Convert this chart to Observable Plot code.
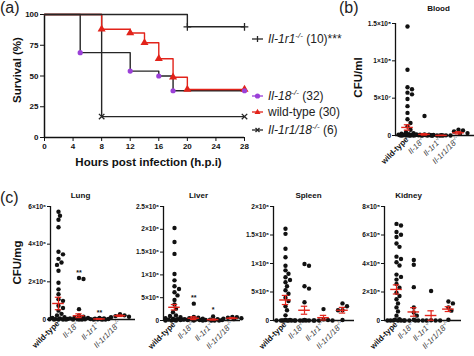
<!DOCTYPE html>
<html><head><meta charset="utf-8">
<script src="https://cdn.jsdelivr.net/npm/d3@7"></script>
<script src="https://cdn.jsdelivr.net/npm/@observablehq/plot@0.6"></script>
<style>
body{margin:0;background:#fff;}
#fig{position:relative;width:474px;height:356px;overflow:hidden;background:#fff;font-family:"Liberation Sans",Arial,sans-serif;}
#fig svg.panel{position:absolute;overflow:visible;max-width:none;}
.plabel{position:absolute;font-size:16px;line-height:16px;color:#222;}
</style></head><body><div id="fig"></div>
<script>
// ---------- DATA ----------
const categories = ["wild-type", "Il-18-/-", "Il-1r1-/-", "Il-1r1/18-/-"];

// (a) survival (Kaplan-Meier)
const hourTicks = [0, 4, 8, 12, 16, 20, 24, 28];
const survivalTicks = [0, 25, 50, 75, 100];
const il1r1Hours = [0, 20, 28];
const il1r1Surv  = [100, 90, 90];
const il18Hours  = [0, 5, 12, 16, 18, 28];
const il18Surv   = [100, 69, 54, 50, 38, 38];
const wtHours    = [0, 8, 12, 14, 16, 18, 20, 28];
const wtSurv     = [100, 88, 85, 77, 64, 49, 39, 39];
const dkoHours   = [0, 8, 28];
const dkoSurv    = [100, 17, 17];
const survivalLabels = ["Il-1r1-/- (10)***", "Il-18-/- (32)", "wild-type (30)", "Il-1r1/18-/- (6)"];

// (b) Blood, CFU/ml, values in millions
const bloodTicks = [0, 50, 100, 150];
const bloodTickLabels = ["0", "5×10⁷", "1×10⁸", "1.5×10⁸"];
const bloodWT  = [146, 88, 64.6, 62, 57.4, 55.1, 48.8, 39.3, 30.3, 21.7, 16.7, 12.2, 7.7, 4.5, 3, 2.3, 1.8, 1.5, 1.2, 1, 0.8, 0.6, 0.5, 0.3, 0.2, 0.1, 0, 0, 0, 0];
const bloodIl18 = [26.2, 1.5, 1.2, 1, 0.8, 0.6, 0.5, 0.4, 0.3, 0.2, 0.1, 0, 0];
const bloodIl1r1 = [0.3, 0.2, 0.1, 0.1, 0, 0, 0];
const bloodDko = [7.7, 6.8, 5.4, 3.2, 2.3];
const bloodMean = [10.8, 1.5, 0.1, 3.6];
const bloodSem  = [3.6, 1.0, 0.05, 1.5];

// (c) Lung, CFU/mg, millions
const lungTicks = [0, 2, 4, 6];
const lungTickLabels = ["0", "2×10⁶", "4×10⁶", "6×10⁶"];
const lungWT = [5.72, 5.51, 5.30, 4.90, 3.60, 3.46, 3.22, 3.03, 2.90, 2.59, 1.95, 1.60, 1.34, 1.08, 0.99, 0.73, 0.61, 0.47, 0.30, 0.21, 0.12, 0.08, 0.05, 0.03, 0.02, 0.01, 0, 0, 0, 0];
const lungIl18 = [2.2, 2.15, 0.55, 0.2, 0.15, 0.1, 0.08, 0.05, 0.03, 0.02, 0.01, 0, 0, 0];
const lungIl1r1 = [0.08, 0.05, 0.04, 0.03, 0.02, 0.01, 0.01, 0, 0, 0];
const lungDko = [0.28, 0.22, 0.18, 0.15, 0.12];
const lungMean = [0.85, 0.2, 0.03, 0.2];
const lungSem  = [0.33, 0.1, 0.01, 0.04];
const lungStarCats = [1, 2];
const lungStarValues = [2.5, 0.37];
const lungStarText = ["**", "**"];

// Liver, millions
const liverTicks = [0, 0.5, 1, 1.5, 2, 2.5];
const liverTickLabels = ["0", "5×10⁵", "1×10⁶", "1.5×10⁶", "2×10⁶", "2.5×10⁶"];
const liverWT = [2.03, 1.72, 1.46, 1.02, 0.88, 0.75, 0.69, 0.62, 0.55, 0.45, 0.35, 0.26, 0.18, 0.11, 0.1, 0.07, 0.05, 0.04, 0.03, 0.02, 0.02, 0.01, 0.01, 0, 0, 0];
const liverIl18 = [0.37, 0.08, 0.06, 0.05, 0.04, 0.03, 0.02, 0.02, 0.01, 0.01, 0, 0];
const liverIl1r1 = [0.09, 0.03, 0.02, 0.01, 0.01, 0, 0, 0];
const liverDko = [0.08, 0.07, 0.06, 0.05, 0.04, 0.03];
const liverMean = [0.29, 0.05, 0.02, 0.05];
const liverSem  = [0.06, 0.03, 0.01, 0.01];
const liverStarCats = [1, 2];
const liverStarValues = [0.5, 0.24];
const liverStarText = ["**", "*"];

// Spleen, millions
const spleenTicks = [0, 0.5, 1, 1.5, 2];
const spleenTickLabels = ["0", "5×10⁵", "1×10⁶", "1.5×10⁶", "2×10⁶"];
const spleenWT = [1.61, 1.52, 1.26, 1.11, 0.96, 0.88, 0.82, 0.76, 0.71, 0.67, 0.60, 0.53, 0.47, 0.40, 0.34, 0.25, 0.18, 0.09, 0.01, 0.01, 0, 0, 0, 0, 0, 0, 0, 0];
const spleenIl18 = [0.99, 0.96, 0.60, 0.56, 0.32, 0.01, 0, 0, 0, 0, 0, 0];
const spleenIl1r1 = [0.2, 0.02, 0.01, 0, 0, 0];
const spleenDko = [0.30, 0.25, 0.18, 0.18, 0.01];
const spleenMean = [0.36, 0.18, 0.05, 0.18];
const spleenSem  = [0.08, 0.07, 0.04, 0.05];

// Kidney, units of 1e5
const kidneyTicks = [0, 2, 4, 6, 8];
const kidneyTickLabels = ["0", "2×10⁵", "4×10⁵", "6×10⁵", "8×10⁵"];
const kidneyWT = [6.78, 6.67, 6.21, 6.02, 5.86, 5.40, 5.17, 4.48, 4.32, 4.09, 3.86, 3.22, 3.06, 2.87, 2.57, 2.30, 1.95, 1.72, 1.49, 1.20, 0.92, 0.64, 0.34, 0.1, 0.05, 0, 0, 0, 0, 0, 0];
const kidneyIl18 = [4.25, 3.91, 2.34, 0.92, 0.57, 0.34, 0.05, 0, 0, 0, 0, 0];
const kidneyIl1r1 = [2.07, 0.02, 0, 0, 0];
const kidneyDko = [1.33, 1.2, 0.92, 0.69, 0.05];
const kidneyMean = [2.18, 0.6, 0.35, 0.8];
const kidneySem  = [0.32, 0.3, 0.33, 0.17];

// ---------- STYLE ----------
const RED = "#e2231a", PURPLE = "#9b40d8", BLACK = "#262626";
const FONT = '"Liberation Sans", Arial, sans-serif';
const SVGNS = "http://www.w3.org/2000/svg";
const fig = document.getElementById("fig");

function place(svg, left, top) {
  svg.classList.add("panel");
  svg.style.left = left + "px";
  svg.style.top = top + "px";
  fig.appendChild(svg);
}
function richParts(s) {
  const m = s.match(/^(.*?)(-\/-)(.*)$/);
  if (!m) return [[s, "plain"]];
  const parts = [[m[1], "i"], [m[2], "sup"]];
  if (m[3]) parts.push([m[3], "plain"]);
  return parts;
}
function fillRich(el, s, fs) {
  el.textContent = "";
  let shifted = 0;
  for (const [t, kind] of richParts(s)) {
    const ts = document.createElementNS(SVGNS, "tspan");
    ts.textContent = t;
    if (kind === "sup") {
      ts.setAttribute("font-size", fs * 0.68);
      ts.setAttribute("dy", -fs * 0.4);
      ts.setAttribute("font-style", "italic");
      ts.setAttribute("font-weight", "normal");
      ts.setAttribute("fill", "#444");
      shifted = fs * 0.4;
    } else {
      ts.setAttribute("font-size", fs);
      if (shifted) { ts.setAttribute("dy", shifted); shifted = 0; }
      if (kind === "i") {
        ts.setAttribute("font-style", "italic");
        ts.setAttribute("font-weight", "normal");
        ts.setAttribute("fill", "#444");
      } else {
        ts.setAttribute("font-weight", "bold");
        ts.setAttribute("fill", "#111");
      }
    }
    el.appendChild(ts);
  }
}
function richHTML(s) {
  return richParts(s).map(([t, k]) =>
    k === "i" ? `<i>${t}</i>` :
    k === "sup" ? `<span style="font-size:8px;position:relative;top:-5px;font-style:italic">${t}</span>` :
    t.replace(/ /g, "&nbsp;")).join("");
}

// ---------- (a) SURVIVAL ----------
const survGroups = [
  {label: survivalLabels[1], t: il18Hours, s: il18Surv, line: BLACK, mark: PURPLE, symbol: "circle", sw: PURPLE, dy: -8},
  {label: survivalLabels[3], t: dkoHours, s: dkoSurv, line: BLACK, mark: BLACK, symbol: "times", sw: BLACK, dy: 0},
  {label: survivalLabels[2], t: wtHours, s: wtSurv, line: RED, mark: RED, symbol: "triangle", sw: RED, dy: 9},
  {label: survivalLabels[0], t: il1r1Hours, s: il1r1Surv, line: BLACK, mark: BLACK, symbol: "plus", sw: BLACK, dy: -1.5}
];
const rows = g => g.t.map((t, i) => ({t, s: g.s[i]}));
const survMarks = [];
for (const g of survGroups) {
  survMarks.push(Plot.line(rows(g), {x: "t", y: "s", curve: "step-after", stroke: g.line, strokeWidth: 1.4}));
}
for (const g of [survGroups[2], survGroups[0], survGroups[1], survGroups[3]]) {
  const pts = rows(g).slice(1);
  const filled = g.symbol === "circle" || g.symbol === "triangle";
  survMarks.push(Plot.dot(pts, {x: "t", y: "s", symbol: g.symbol, r: g.symbol === "triangle" ? 3 : 2.6,
    fill: filled ? g.mark : "none", stroke: filled ? "none" : g.mark, strokeWidth: 1.3}));
}
const survPlot = Plot.plot({
  width: 350, height: 172, marginLeft: 44, marginRight: 106, marginTop: 14, marginBottom: 35,
  style: {fontFamily: FONT, fontSize: "8px", fontWeight: "bold", color: "#111", background: "transparent", overflow: "visible"},
  x: {domain: [0, 28], ticks: hourTicks, tickSize: 4, tickPadding: 2, label: null},
  y: {domain: [0, 100], ticks: survivalTicks, tickSize: 4, tickPadding: 2, label: null},
  marks: [
    Plot.ruleX([0], {stroke: "#111", strokeWidth: 1.5}),
    Plot.ruleY([0], {stroke: "#111", strokeWidth: 1.5}),
    ...survMarks,
    Plot.text(["Hours post infection (h.p.i)"], {frameAnchor: "bottom", textAnchor: "middle", dx: 4, dy: 28, lineAnchor: "bottom", fontSize: 11.5, fontWeight: "bold", fill: "#111"}),
    Plot.text(["Survival (%)"], {frameAnchor: "left", textAnchor: "middle", lineAnchor: "middle", rotate: -90, dx: -27, dy: -6, fontSize: 11.5, fontWeight: "bold", fill: "#111"})
  ]
});
place(survPlot, 0, 0);
const ySurv = survPlot.scale("y");

function swatch(g) {
  let sym = "";
  if (g.symbol === "circle") sym = `<circle cx="7.5" cy="8" r="2.6" fill="${g.sw}"/>`;
  if (g.symbol === "triangle") sym = `<polygon points="7.5,4.8 10.5,10 4.5,10" fill="${g.sw}"/>`;
  if (g.symbol === "plus") sym = `<path d="M7.5,5V11" stroke="${g.sw}" stroke-width="1.3"/>`;
  if (g.symbol === "times") sym = `<path d="M5.5,6L9.5,10M9.5,6L5.5,10" stroke="${g.sw}" stroke-width="1.3"/>`;
  return `<svg width="16" height="16" style="flex:none"><path d="M2,8H13" stroke="${g.sw}" stroke-width="1.3"/>${sym}</svg>`;
}
for (const g of survGroups) {
  const y = 14 + ySurv.apply(g.s[g.s.length - 1]) + g.dy;
  const div = document.createElement("div");
  div.style.cssText = `position:absolute;left:250px;top:${y - 8}px;height:16px;display:flex;align-items:center;font-size:12px;color:#222;white-space:nowrap;`;
  div.innerHTML = swatch(g) + `<span style="margin-left:2px">${richHTML(g.label)}</span>`;
  fig.appendChild(div);
}

// ---------- SCATTER PANELS ----------
function swarm(values, ci, pxPerUnit, step, r) {
  const sorted = values.slice().sort((a, b) => b - a);
  const placed = [], out = [];
  const cands = [0];
  for (let o = 1.5; o <= 9; o += 1.5) cands.push(o, -o);
  for (const v of sorted) {
    const py = v * pxPerUnit;
    let best = 0, bestD = -1;
    for (const c of cands) {
      let dmin = Infinity;
      for (const q of placed) dmin = Math.min(dmin, Math.hypot(c - q.ox, py - q.py));
      if (dmin >= 2 * r * 0.95) { best = c; break; }
      if (dmin > bestD) { bestD = dmin; best = c; }
    }
    placed.push({ox: best, py});
    out.push({x: ci + best / step, v});
  }
  return out;
}
function scatterPanel(c) {
  const pxPerUnit = (c.yZero - c.yTop) / c.yMax;
  const pts = [];
  c.values.forEach((arr, i) => pts.push(...swarm(arr, i, pxPerUnit, c.step, 2.2)));
  const x0 = -(c.cat0 - c.axisX) / c.step, x1 = (c.right - c.cat0) / c.step;
  const stats = c.means.map((m, i) => ({i, m, lo: Math.max(0, m - c.sems[i]), hi: m + c.sems[i]}));
  const mw = 5.8 / c.step, cw = 3.2 / c.step;
  const marks = [
    Plot.ruleX([x0], {stroke: "#111", strokeWidth: 1.3}),
    Plot.ruleY([0], {stroke: "#111", strokeWidth: 1.3}),
    Plot.dot(pts, {x: "x", y: "v", r: 2.2, fill: "#111", stroke: "none"}),
    Plot.ruleY(stats, {y: "m", x1: d => d.i - mw, x2: d => d.i + mw, stroke: RED, strokeWidth: 1.4}),
    Plot.ruleX(stats, {x: "i", y1: "lo", y2: "hi", stroke: RED, strokeWidth: 1.2}),
    Plot.ruleY(stats, {y: "lo", x1: d => d.i - cw, x2: d => d.i + cw, stroke: RED, strokeWidth: 1.2}),
    Plot.ruleY(stats, {y: "hi", x1: d => d.i - cw, x2: d => d.i + cw, stroke: RED, strokeWidth: 1.2}),
    Plot.text([c.title], {frameAnchor: "top-left", dx: c.titleX - c.axisX, dy: c.titleY - c.yTop, textAnchor: "middle", lineAnchor: "bottom", fontSize: 8, fontWeight: "bold", fill: "#111"})
  ];
  if (c.ylabel) marks.push(Plot.text([c.ylabel], {frameAnchor: "left", textAnchor: "middle", lineAnchor: "middle", rotate: -90, dx: c.ylabelX - c.axisX, dy: c.ylabelY - (c.yTop + c.yZero) / 2, fontSize: 11.5, fontWeight: "bold", fill: "#111"}));
  if (c.starCats) {
    const stars = c.starCats.map((ci, k) => ({ci, v: c.starValues[k], t: c.starText[k]}));
    marks.push(Plot.text(stars, {x: "ci", y: "v", text: "t", fontSize: 7, fontWeight: "bold", fill: "#111"}));
  }
  const svg = Plot.plot({
    width: c.width, height: c.height,
    marginLeft: c.axisX - c.left, marginRight: c.left + c.width - c.right,
    marginTop: c.yTop - c.top, marginBottom: c.top + c.height - c.yZero,
    style: {fontFamily: FONT, fontSize: "6.5px", fontWeight: "bold", color: "#111", background: "transparent", overflow: "visible"},
    x: {domain: [x0, x1], ticks: [0, 1, 2, 3], tickFormat: d => categories[d], tickRotate: -45, tickSize: 0, tickPadding: 3, label: null},
    y: {domain: [0, c.yMax], ticks: c.ticks, tickFormat: d => c.tickLabels[c.ticks.indexOf(d)], tickSize: 3, tickPadding: 1.5, label: null},
    marks
  });
  svg.querySelectorAll("text").forEach(el => {
    const s = el.textContent;
    if (categories.includes(s)) fillRich(el, s, 8);
  });
  place(svg, c.left, c.top);
}

scatterPanel({left: 330, top: 0, width: 144, height: 178, axisX: 395, cat0: 407, step: 17, right: 474,
  yTop: 23, yZero: 135, yMax: 150, ticks: bloodTicks, tickLabels: bloodTickLabels,
  values: [bloodWT, bloodIl18, bloodIl1r1, bloodDko], means: bloodMean, sems: bloodSem,
  title: "Blood", titleX: 438, titleY: 10, ylabel: "CFU/ml", ylabelX: 358, ylabelY: 77});
scatterPanel({left: 0, top: 180, width: 150, height: 176, axisX: 50, cat0: 58, step: 20.5, right: 135,
  yTop: 206, yZero: 319, yMax: 6, ticks: lungTicks, tickLabels: lungTickLabels,
  values: [lungWT, lungIl18, lungIl1r1, lungDko], means: lungMean, sems: lungSem,
  title: "Lung", titleX: 80, titleY: 197, ylabel: "CFU/mg", ylabelX: 17, ylabelY: 262,
  starCats: lungStarCats, starValues: lungStarValues, starText: lungStarText});
scatterPanel({left: 112, top: 180, width: 130, height: 176, axisX: 163, cat0: 174, step: 19.3, right: 240,
  yTop: 206, yZero: 320, yMax: 2.5, ticks: liverTicks, tickLabels: liverTickLabels,
  values: [liverWT, liverIl18, liverIl1r1, liverDko], means: liverMean, sems: liverSem,
  title: "Liver", titleX: 198, titleY: 197,
  starCats: liverStarCats, starValues: liverStarValues, starText: liverStarText});
scatterPanel({left: 222, top: 180, width: 134, height: 176, axisX: 273, cat0: 285, step: 19, right: 354,
  yTop: 206, yZero: 320, yMax: 2, ticks: spleenTicks, tickLabels: spleenTickLabels,
  values: [spleenWT, spleenIl18, spleenIl1r1, spleenDko], means: spleenMean, sems: spleenSem,
  title: "Spleen", titleX: 308, titleY: 197});
scatterPanel({left: 334, top: 180, width: 140, height: 176, axisX: 384, cat0: 396, step: 17.3, right: 461,
  yTop: 206, yZero: 320, yMax: 8, ticks: kidneyTicks, tickLabels: kidneyTickLabels,
  values: [kidneyWT, kidneyIl18, kidneyIl1r1, kidneyDko], means: kidneyMean, sems: kidneySem,
  title: "Kidney", titleX: 408, titleY: 197});

// panel letters
for (const [t, l, tp] of [["(a)", 0, 0], ["(b)", 339, 0], ["(c)", 0, 190]]) {
  const d = document.createElement("div");
  d.className = "plabel"; d.textContent = t;
  d.style.left = l + "px"; d.style.top = tp + "px";
  fig.appendChild(d);
}
</script></body></html>
